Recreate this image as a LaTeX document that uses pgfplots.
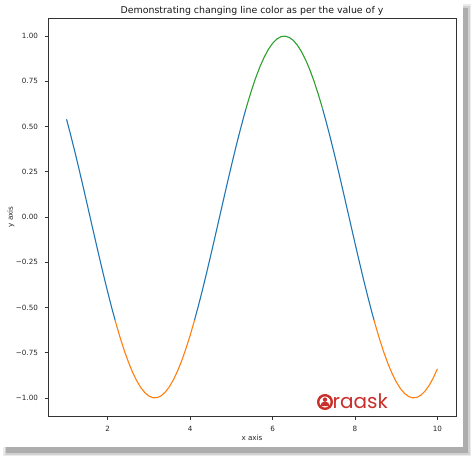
\documentclass[border=0pt]{standalone}
\usepackage{pgfplots}
\pgfplotsset{compat=1.18}
\usepackage{fontspec}
\setmainfont{DejaVu Sans}
\newfontfamily\logofont{Poppins}
\definecolor{tabblue}{HTML}{1F77B4}
\definecolor{taborange}{HTML}{FF7F0E}
\definecolor{tabgreen}{HTML}{2CA02C}
\definecolor{oraskred}{HTML}{C9302C}
\begin{document}
\begin{tikzpicture}
\path[use as bounding box] (0pt,0pt) rectangle (474pt,459pt);
% panel shadow
\fill[black!8] (3pt,3pt) rectangle (471pt,455pt);
\fill[black!18] (4.5pt,4.5pt) rectangle (469.5pt,453pt);
\fill[black!32] (6pt,6pt) rectangle (467.5pt,451pt);
\fill[white] (0pt,12pt) rectangle (463pt,459pt);
\begin{axis}[
  at={(48pt,43pt)}, anchor=south west,
  scale only axis, width=408pt, height=398pt,
  xmin=0.55, xmax=10.45, ymin=-1.1, ymax=1.1,
  xtick={2,4,6,8,10}, xticklabels={2,4,6,8,10},
  ytick={-1,-0.75,-0.5,-0.25,0,0.25,0.5,0.75,1},
  yticklabels={−1.00,−0.75,−0.50,−0.25,0.00,0.25,0.50,0.75,1.00},
  tick align=outside, tick pos=left, major tick length=3.5pt,
  tick style={black!80, line width=0.6pt},
  axis line style={black!80, line width=0.7pt},
  tick label style={font=\fontsize{7.2}{8}\selectfont, text=black!85},
  xticklabel style={anchor=base, yshift=-12pt},
  yticklabel style={anchor=east, xshift=-3pt},
  title={Demonstrating changing line color as per the value of y},
  title style={font=\fontsize{9.4}{11}\selectfont, at={(axis description cs:0.5,1)}, anchor=base, yshift=-1pt, text=black!90},
  xlabel={x axis}, ylabel={y axis},
  label style={font=\fontsize{7.2}{8}\selectfont, text=black!85},
  xlabel style={at={(axis description cs:0.5,0)}, anchor=base, yshift=-24pt},
  ylabel style={at={(axis description cs:-0.0858,0.5)}, anchor=base},
  clip=false,
]
\addplot[tabblue, line width=1.1pt] coordinates {
(1.0,0.5403)(1.1,0.4536)(1.2,0.3624)(1.3,0.2675)(1.4,0.1700)(1.5,0.0707)
(1.6,-0.0292)(1.7,-0.1288)(1.8,-0.2272)(1.9,-0.3233)(2.0,-0.4161)(2.1,-0.5048)
(2.1778,-0.57)};
\addplot[tabblue, line width=1.1pt] coordinates {
(4.1054,-0.57)(4.2,-0.4903)(4.3,-0.4008)(4.4,-0.3073)(4.5,-0.2108)(4.6,-0.1122)
(4.7,-0.0124)(4.8,0.0875)(4.9,0.1865)(5.0,0.2837)(5.1,0.3780)(5.2,0.4685)
(5.3,0.5544)(5.3559,0.6)};
\addplot[tabblue, line width=1.1pt] coordinates {
(7.2105,0.6)(7.3,0.5261)(7.4,0.4385)(7.5,0.3466)(7.6,0.2513)(7.7,0.1534)
(7.8,0.0540)(7.9,-0.0460)(8.0,-0.1455)(8.1,-0.2435)(8.2,-0.3392)(8.3,-0.4314)
(8.4,-0.5193)(8.4610,-0.57)};
\addplot[taborange, line width=1.1pt] coordinates {
(2.1778,-0.57)(2.2,-0.5885)(2.3,-0.6663)(2.4,-0.7374)(2.5,-0.8011)(2.6,-0.8569)
(2.7,-0.9041)(2.8,-0.9422)(2.9,-0.9710)(3.0,-0.9900)(3.1,-0.9991)(3.2,-0.9983)
(3.3,-0.9875)(3.4,-0.9668)(3.5,-0.9365)(3.6,-0.8968)(3.7,-0.8481)(3.8,-0.7910)
(3.9,-0.7259)(4.0,-0.6536)(4.1,-0.5748)(4.1054,-0.57)};
\addplot[taborange, line width=1.1pt] coordinates {
(8.4610,-0.57)(8.5,-0.6020)(8.6,-0.6787)(8.7,-0.7486)(8.8,-0.8111)(8.9,-0.8654)
(9.0,-0.9111)(9.1,-0.9477)(9.2,-0.9748)(9.3,-0.9922)(9.4,-0.9997)(9.5,-0.9972)
(9.6,-0.9847)(9.7,-0.9624)(9.8,-0.9304)(9.9,-0.8892)(10.0,-0.8391)};
\addplot[tabgreen, line width=1.1pt] coordinates {
(5.3559,0.6)(5.4,0.6347)(5.5,0.7087)(5.6,0.7756)(5.7,0.8347)(5.8,0.8855)
(5.9,0.9275)(6.0,0.9602)(6.1,0.9833)(6.2,0.9965)(6.3,0.9999)(6.4,0.9932)
(6.5,0.9766)(6.6,0.9502)(6.7,0.9144)(6.8,0.8694)(6.9,0.8157)(7.0,0.7539)
(7.1,0.6845)(7.2,0.6084)(7.2105,0.6)};
\end{axis}
% watermark logo
\draw[oraskred, line width=2.4pt] (325pt,57pt) circle (6.8pt);
\fill[oraskred] (325pt,59.4pt) circle (2.2pt);
\fill[oraskred] (320.4pt,53pt) arc (180:0:4.6pt) -- cycle;
\node[oraskred, anchor=base west, inner sep=0pt, font=\logofont\fontsize{20}{20}\selectfont] at (332.5pt,51pt) {raask};
\end{tikzpicture}
\end{document}
